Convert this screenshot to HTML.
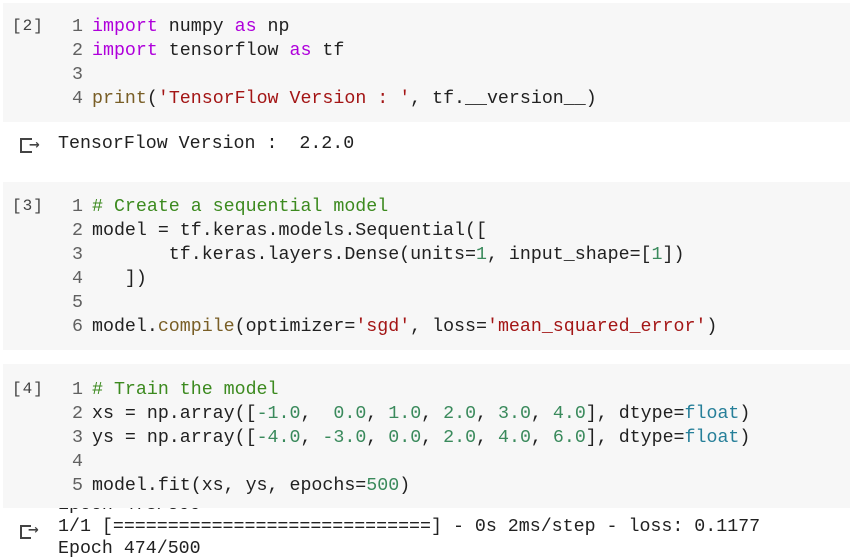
<!DOCTYPE html>
<html><head><style>
body{margin:0;width:850px;height:557px;background:#fff;overflow:hidden;position:relative;font-family:"Liberation Mono",monospace;font-size:18.3px;color:#212121}
.cell{position:absolute;left:3px;width:847px;background:#f7f7f7}
.l{position:absolute;left:0;white-space:pre;line-height:24px;height:24px}
.n{position:absolute;white-space:pre;line-height:24px;color:#616161;width:83px;text-align:right;left:0}
.p{position:absolute;left:12px;color:#424242;font-size:16px;letter-spacing:1px}
.k{color:#af00db}.s{color:#a31515}.g{color:#3a8a5c}.f{color:#795e26}.c{color:#3c8a1f}.t{color:#267f99}
.o{position:absolute;left:58px;white-space:pre;line-height:22px}
.ic{position:absolute;left:20px;width:10px;height:11px;border:2px solid #444;border-right:none}
.ar{position:absolute;font-size:13px;color:#444;font-family:'DejaVu Sans';font-weight:bold}
</style></head><body>
<div class="cell" style="top:3px;height:119px"></div>
<div class="cell" style="top:182px;height:168px"></div>
<div class="cell" style="top:364px;height:144px"></div>

<div class="p" style="top:17px">[2]</div>
<div class="n" style="top:15px">1<br>2<br>3<br>4</div>
<div class="l" style="top:15px;left:92px"><span class="k">import</span> numpy <span class="k">as</span> np</div>
<div class="l" style="top:39px;left:92px"><span class="k">import</span> tensorflow <span class="k">as</span> tf</div>
<div class="l" style="top:87px;left:92px"><span class="f">print</span>(<span class="s">'TensorFlow Version : '</span>, tf.__version__)</div>

<div class="ic" style="top:138px"></div><div class="ar" style="left:29px;top:138px">→</div>
<div class="o" style="top:133px">TensorFlow Version :  2.2.0</div>

<div class="p" style="top:197px">[3]</div>
<div class="n" style="top:195px">1<br>2<br>3<br>4<br>5<br>6</div>
<div class="l" style="top:195px;left:92px"><span class="c"># Create a sequential model</span></div>
<div class="l" style="top:219px;left:92px">model = tf.keras.models.Sequential([</div>
<div class="l" style="top:243px;left:92px">       tf.keras.layers.Dense(units=<span class="g">1</span>, input_shape=[<span class="g">1</span>])</div>
<div class="l" style="top:267px;left:92px">   ])</div>
<div class="l" style="top:315px;left:92px">model.<span class="f">compile</span>(optimizer=<span class="s">'sgd'</span>, loss=<span class="s">'mean_squared_error'</span>)</div>

<div class="p" style="top:380px">[4]</div>
<div class="n" style="top:378px">1<br>2<br>3<br>4<br>5</div>
<div class="l" style="top:378px;left:92px"><span class="c"># Train the model</span></div>
<div class="l" style="top:402px;left:92px">xs = np.array([<span class="g">-1.0</span>,  <span class="g">0.0</span>, <span class="g">1.0</span>, <span class="g">2.0</span>, <span class="g">3.0</span>, <span class="g">4.0</span>], dtype=<span class="t">float</span>)</div>
<div class="l" style="top:426px;left:92px">ys = np.array([<span class="g">-4.0</span>, <span class="g">-3.0</span>, <span class="g">0.0</span>, <span class="g">2.0</span>, <span class="g">4.0</span>, <span class="g">6.0</span>], dtype=<span class="t">float</span>)</div>
<div class="l" style="top:474px;left:92px">model.fit(xs, ys, epochs=<span class="g">500</span>)</div>

<div style="position:absolute;top:508px;left:0;width:850px;height:49px;overflow:hidden;background:#fff">
<div class="o" style="top:-14px">Epoch 473/500</div>
<div class="o" style="top:8px">1/1 [=============================] - 0s 2ms/step - loss: 0.1177</div>
<div class="o" style="top:30px">Epoch 474/500</div>
<div class="ic" style="top:17px;width:9px;height:10px"></div><div class="ar" style="left:28px;top:15px">→</div>
</div>
</body></html>
